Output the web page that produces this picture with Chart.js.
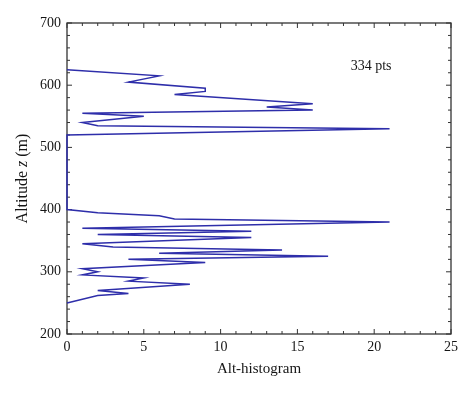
<!DOCTYPE html>
<html>
<head>
<meta charset="utf-8">
<script src="https://cdn.jsdelivr.net/npm/chart.js@4.4.0/dist/chart.umd.min.js"></script>
<style>
    html, body { margin: 0; padding: 0; background: #ffffff; }
    #wrap { width: 474px; height: 395px; }
</style>
</head>
<body>
<div id="wrap"><canvas id="altChart"></canvas></div>
<script>
// ===============================
// Data (vertices of the profile, top to bottom)
// ===============================

const altitudes = [625, 615, 605, 595, 590, 585, 570, 565, 560, 555, 550, 540, 535, 530, 520,
                   400, 395, 390, 385, 380, 370, 365, 360, 355, 345, 340, 335, 330, 325, 320, 315,
                   305, 300, 295, 290, 285, 280, 270, 265, 262, 250];

const counts = [0, 6, 4, 9, 9, 7, 16, 13, 16, 1, 5, 1, 2, 21, 0,
                0, 2, 6, 7, 21, 1, 12, 2, 12, 1, 3, 14, 6, 17, 4, 9,
                1, 2, 1, 5, 4, 8, 2, 4, 2, 0];

const xTickValues = [0, 5, 10, 15, 20, 25];
const yTickValues = [200, 300, 400, 500, 600, 700];

const xTitle = "Alt-histogram";
const yTitleParts = ["Altitude ", "z", " (m)"];
const noteText = "334 pts";
const noteX = 19.8;
const noteY = 631;

const points = altitudes.map(function(alt, i){
    return { x: counts[i], y: alt };
});

const serif = "'Liberation Serif', 'DejaVu Serif', serif";

// ===============================
// Frame, inward ticks and titles
// ===============================

const frameTicks = {

    id: "frameTicks",

    beforeDatasetsDraw(chart){

        const ctx = chart.ctx;
        const a = chart.chartArea;
        const xs = chart.scales.x;
        const ys = chart.scales.y;

        ctx.save();
        ctx.strokeStyle = "#333333";
        ctx.lineWidth = 1.3;
        ctx.strokeRect(a.left, a.top, a.right - a.left, a.bottom - a.top);

        ctx.lineWidth = 1;
        ctx.beginPath();

        // x ticks: minor every 1, major every 5
        for(let v = xs.min; v <= xs.max; v += 1){
            const px = xs.getPixelForValue(v);
            const len = (v % 5 === 0) ? 5 : 3;
            ctx.moveTo(px, a.bottom);
            ctx.lineTo(px, a.bottom - len);
            ctx.moveTo(px, a.top);
            ctx.lineTo(px, a.top + len);
        }

        // y ticks: minor every 20, major every 100
        for(let v = ys.min; v <= ys.max; v += 20){
            const py = ys.getPixelForValue(v);
            const len = (v % 100 === 0) ? 5 : 3;
            ctx.moveTo(a.left, py);
            ctx.lineTo(a.left + len, py);
            ctx.moveTo(a.right, py);
            ctx.lineTo(a.right - len, py);
        }

        ctx.stroke();
        ctx.restore();

    },

    afterDraw(chart){

        const ctx = chart.ctx;
        const a = chart.chartArea;
        const xs = chart.scales.x;
        const ys = chart.scales.y;

        ctx.save();
        ctx.fillStyle = "#151515";
        ctx.textBaseline = "middle";

        // x title
        ctx.font = "15px " + serif;
        ctx.textAlign = "center";
        ctx.fillText(xTitle, (a.left + a.right) / 2, 369);

        // note
        ctx.font = "14px " + serif;
        ctx.fillText(noteText, xs.getPixelForValue(noteX), ys.getPixelForValue(noteY));

        // y title with italic z
        ctx.translate(23, (a.top + a.bottom) / 2);
        ctx.rotate(-Math.PI / 2);
        ctx.textAlign = "left";

        const fonts = [
            "16px " + serif,
            "italic 16px " + serif,
            "16px " + serif
        ];

        let total = 0;
        yTitleParts.forEach(function(part, i){
            ctx.font = fonts[i];
            total += ctx.measureText(part).width;
        });

        let pos = -total / 2;
        yTitleParts.forEach(function(part, i){
            ctx.font = fonts[i];
            ctx.fillText(part, pos, 0);
            pos += ctx.measureText(part).width;
        });

        ctx.restore();

    }

};

// ===============================
// Chart
// ===============================

const canvas = document.getElementById("altChart");

new Chart(canvas, {

    type: "scatter",

    data: {
        datasets: [{
            data: points,
            showLine: true,
            borderColor: "#2e2eaa",
            borderWidth: 1.5,
            pointRadius: 0,
            tension: 0,
            fill: false,
            clip: 4
        }]
    },

    options: {

        responsive: true,
        maintainAspectRatio: false,
        animation: false,

        layout: {
            padding: { top: 23, right: 23, left: 0, bottom: 0 }
        },

        plugins: {
            legend: { display: false },
            tooltip: { enabled: false }
        },

        scales: {

            x: {
                type: "linear",
                min: 0,
                max: 25,
                afterBuildTicks: function(scale){
                    scale.ticks = xTickValues.map(function(v){ return { value: v }; });
                },
                afterFit: function(scale){
                    scale.height = 61;
                },
                ticks: {
                    font: { family: serif, size: 14 },
                    color: "#151515",
                    padding: 5,
                    maxRotation: 0
                },
                grid: { display: false, drawTicks: false },
                border: { display: false }
            },

            y: {
                type: "linear",
                min: 200,
                max: 700,
                afterBuildTicks: function(scale){
                    scale.ticks = yTickValues.map(function(v){ return { value: v }; });
                },
                afterFit: function(scale){
                    scale.width = 67;
                },
                ticks: {
                    font: { family: serif, size: 14 },
                    color: "#151515",
                    padding: 6
                },
                grid: { display: false, drawTicks: false },
                border: { display: false }
            }

        }

    },

    plugins: [frameTicks]

});
</script>
</body>
</html>
